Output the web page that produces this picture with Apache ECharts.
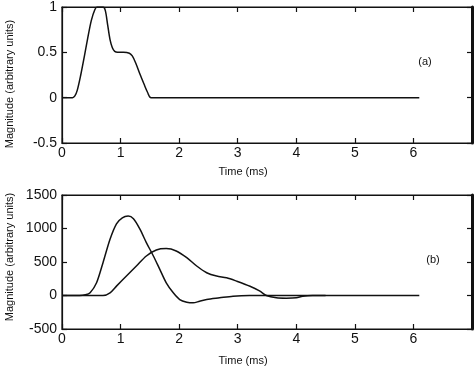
<!DOCTYPE html>
<html><head><meta charset="utf-8">
<script src="https://cdn.jsdelivr.net/npm/echarts@6/dist/echarts.min.js"></script>
<style>html,body{margin:0;padding:0;background:#fff}#c{width:474px;height:366px}</style>
</head><body><div id="c"></div>
<script>
// Panel (a)
var timeA = [0, 0.18, 0.22, 0.26, 0.32, 0.38, 0.44, 0.50, 0.56, 0.60, 0.70, 0.74, 0.78, 0.82, 0.86, 0.90, 0.95, 1.05, 1.15, 1.20, 1.26, 1.33, 1.40, 1.46, 1.52, 6.1];
var magA  = [0, 0, 0.02, 0.08, 0.25, 0.45, 0.66, 0.85, 0.97, 1, 1, 0.96, 0.80, 0.64, 0.55, 0.51, 0.50, 0.50, 0.49, 0.46, 0.38, 0.26, 0.15, 0.06, 0, 0];
// Panel (b), curve 1
var timeB1 = [0, 0.30, 0.40, 0.48, 0.59, 0.70, 0.82, 0.93, 1.03, 1.13, 1.22, 1.33, 1.44, 1.56, 1.67, 1.78, 1.90, 2.01, 2.13, 2.24, 2.35, 2.47, 2.69, 2.92, 3.2, 6.1];
var magB1  = [0, 0, 10, 40, 190, 490, 840, 1070, 1160, 1185, 1145, 990, 790, 590, 390, 190, 40, -60, -100, -110, -85, -60, -35, -10, 0, 0];
// Panel (b), curve 2
var timeB2 = [0, 0.70, 0.82, 0.93, 1.10, 1.27, 1.44, 1.61, 1.78, 1.95, 2.13, 2.30, 2.47, 2.64, 2.81, 2.98, 3.21, 3.38, 3.49, 3.66, 3.83, 4.0, 4.11, 4.28, 4.5];
var magB2  = [0, 0, 40, 140, 290, 440, 590, 680, 700, 665, 565, 440, 340, 290, 265, 215, 138, 64, 0, -34, -40, -34, -10, 0, 0];
// Axis ticks
var xTicks = {min: 0, max: 7, interval: 1};
var yTicksA = {min: -0.5, max: 1, interval: 0.5};
var yTicksB = {min: -500, max: 1500, interval: 500};
var xLabel = 'Time (ms)';
var yLabel = 'Magnitude (arbitrary units)';
var panelTags = ['(a)', '(b)'];

function pairs(xs, ys){ return xs.map(function(x,i){ return [x, ys[i]]; }); }

var FONT = 'Liberation Sans, Arial, sans-serif';
var INK = '#111';
function axLine(w){ return {show: true, onZero: false, lineStyle: {color: INK, width: w || 1.2}}; }
function tick(){ return {show: true, inside: true, length: 5, lineStyle: {color: INK, width: 1.2}}; }
function plain(v){ return String(v); }

function xAxes(g){
  return [
    {type: 'value', gridIndex: g, position: 'bottom', min: xTicks.min, max: xTicks.max, interval: xTicks.interval,
     axisLine: axLine(), axisTick: tick(), splitLine: {show: false},
     axisLabel: {show: true, margin: 3, fontSize: 14, fontFamily: FONT, color: INK, showMaxLabel: false, formatter: plain}},
    {type: 'value', gridIndex: g, position: 'top', min: xTicks.min, max: xTicks.max, interval: xTicks.interval,
     axisLine: axLine(), axisTick: tick(), splitLine: {show: false}, axisLabel: {show: false}}
  ];
}
function yAxes(g, t){
  return [
    {type: 'value', gridIndex: g, position: 'left', min: t.min, max: t.max, interval: t.interval,
     axisLine: axLine(), axisTick: tick(), splitLine: {show: false},
     axisLabel: {show: true, margin: 5, fontSize: 14, fontFamily: FONT, color: INK, formatter: plain}},
    {type: 'value', gridIndex: g, position: 'right', min: t.min, max: t.max, interval: t.interval,
     axisLine: axLine(3), axisTick: tick(), splitLine: {show: false}, axisLabel: {show: false}}
  ];
}
function series(xi, yi, data){
  return {type: 'line', xAxisIndex: xi, yAxisIndex: yi, data: data, smooth: 0.3, symbol: 'none',
          lineStyle: {color: INK, width: 1.5}, animation: false, z: 3};
}
function txt(x, y, s, size, rot){
  return {type: 'text', x: x, y: y, rotation: rot || 0, z: 10,
    style: {text: s, x: 0, y: 0, fill: INK, font: size + 'px ' + FONT, align: 'center', verticalAlign: 'middle',
            textAlign: 'center', textVerticalAlign: 'middle'}};
}
function gridBox(top, h){
  return {left: 62, top: top, right: 2, height: h, containLabel: false,
          show: true, borderWidth: 1.2, borderColor: INK, backgroundColor: 'transparent'};
}

var chart = echarts.init(document.getElementById('c'), null, {renderer: 'canvas'});
chart.setOption({
  animation: false,
  backgroundColor: '#fff',
  grid: [gridBox(7, 136), gridBox(195, 134)],
  xAxis: xAxes(0).concat(xAxes(1)),
  yAxis: yAxes(0, yTicksA).concat(yAxes(1, yTicksB)),
  series: [
    series(0, 0, pairs(timeA, magA)),
    series(2, 2, pairs(timeB1, magB1)),
    series(2, 2, pairs(timeB2, magB2))
  ],
  graphic: [
    txt(243, 172, xLabel, 11),
    txt(243, 361, xLabel, 11),
    txt(10, 84, yLabel, 11, Math.PI/2),
    txt(10, 257, yLabel, 11, Math.PI/2),
    txt(425, 62, panelTags[0], 11),
    txt(433, 260, panelTags[1], 11)
  ]
});
</script></body></html>
